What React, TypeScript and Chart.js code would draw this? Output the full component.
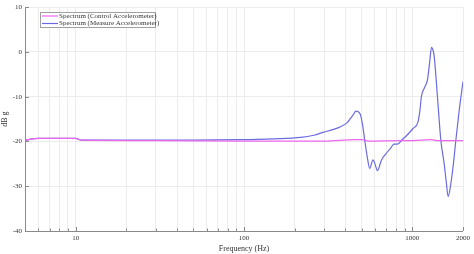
import React, { useEffect, useRef } from "react";
import { Chart, registerables } from "chart.js";
Chart.register(...registerables);

const measureFreq = [5, 5.5, 6, 8, 10, 10.8, 20, 50, 95, 150, 217, 260, 298, 340, 375, 410, 430, 450, 461, 489, 505, 521, 540, 558, 584, 600, 620, 655, 695, 740, 778, 815, 870, 935, 1010, 1081, 1110, 1132, 1180, 1230, 1270, 1300, 1325, 1349, 1410, 1476, 1545, 1590, 1633, 1700, 1760, 1815, 1900, 2000];
const measureDb = [-19.8, -19.4, -19.3, -19.3, -19.3, -19.7, -19.7, -19.7, -19.6, -19.4, -19.1, -18.6, -17.9, -17.3, -16.7, -15.8, -14.8, -13.8, -13.2, -13.8, -16, -19.6, -23.5, -26.0, -24.1, -25.0, -26.5, -24.2, -22.8, -21.6, -20.6, -20.6, -19.6, -18.5, -17.1, -15.6, -13, -10.0, -8.0, -6.25, -2, 1.05, 0.5, -1.0, -10, -19.6, -24.9, -29, -32.3, -29, -24.5, -19.6, -13, -6.6];

const controlFreq = [5, 5.5, 6, 10, 10.8, 30, 100, 300, 450, 500, 550, 800, 1000, 1300, 1400, 2000];
const controlDb = [-19.8, -19.4, -19.3, -19.3, -19.7, -19.8, -19.9, -19.9, -19.6, -19.6, -19.9, -19.8, -19.8, -19.6, -19.8, -19.8];

const xTicks = [5, 6, 7, 8, 9, 10, 20, 30, 40, 50, 60, 70, 80, 90, 100, 200, 300, 400, 500, 600, 700, 800, 900, 1000, 2000];
const xLabeled = [10, 100, 1000, 2000];
const yTicks = [-40, -30, -20, -10, 0, 10];

const seriesLabels = ["Spectrum (Control Accelerometer)", "Spectrum (Measure Accelerometer)"];
const seriesColors = ["#ee66ee", "#6b6be0"];

const FONT = "'Liberation Serif', 'DejaVu Serif', serif";

export default function App() {
  const ref = useRef<HTMLCanvasElement | null>(null);
  useEffect(() => {
    document.body.style.margin = "0";
    const canvas = ref.current!;
    const overlay = {
      id: "overlay",
      afterDraw(chart: any) {
        const ctx = chart.ctx;
        const a = chart.chartArea;
        const xs = chart.scales.x;
        const ys = chart.scales.y;
        ctx.save();
        // axis lines
        ctx.strokeStyle = "#8a8a8a";
        ctx.lineWidth = 1;
        ctx.beginPath();
        ctx.moveTo(a.left + 0.5, a.top);
        ctx.lineTo(a.left + 0.5, a.bottom + 0.5);
        ctx.lineTo(a.right, a.bottom + 0.5);
        ctx.stroke();
        // inward ticks
        ctx.strokeStyle = "#8a8a8a";
        ctx.beginPath();
        xTicks.forEach((t) => {
          const px = Math.round(xs.getPixelForValue(t)) + 0.5;
          const len = xLabeled.includes(t) ? 4 : 2.5;
          ctx.moveTo(px, a.bottom);
          ctx.lineTo(px, a.bottom - len);
        });
        yTicks.forEach((t) => {
          const py = Math.round(ys.getPixelForValue(t)) + 0.5;
          ctx.moveTo(a.left, py);
          ctx.lineTo(a.left + 4, py);
        });
        ctx.stroke();
        // legend
        const lx = 40, ly = 12, lw = 115, lh = 15;
        ctx.fillStyle = "#ffffff";
        ctx.fillRect(lx, ly, lw, lh);
        ctx.strokeStyle = "#a0a0a0";
        ctx.strokeRect(lx + 0.5, ly + 0.5, lw, lh);
        ctx.font = `7px ${FONT}`;
        ctx.textBaseline = "middle";
        seriesLabels.forEach((lab, i) => {
          const yy = ly + 4 + i * 7.5;
          ctx.strokeStyle = seriesColors[i];
          ctx.lineWidth = 1.2;
          ctx.beginPath();
          ctx.moveTo(lx + 2, yy);
          ctx.lineTo(lx + 18, yy);
          ctx.stroke();
          ctx.fillStyle = "#333333";
          ctx.fillText(lab, lx + 19, yy);
        });
        ctx.restore();
      },
    };
    const chart = new Chart(canvas, {
      type: "line",
      data: {
        datasets: [
          {
            label: seriesLabels[0],
            data: controlFreq.map((f, i) => ({ x: f, y: controlDb[i] })),
            borderColor: seriesColors[0],
            borderWidth: 1.2,
            pointRadius: 0,
            cubicInterpolationMode: "monotone",
          },
          {
            label: seriesLabels[1],
            data: measureFreq.map((f, i) => ({ x: f, y: measureDb[i] })),
            borderColor: seriesColors[1],
            borderWidth: 1.2,
            pointRadius: 0,
            cubicInterpolationMode: "monotone",
          },
        ],
      },
      options: {
        animation: false,
        responsive: false,
        maintainAspectRatio: false,
        layout: { padding: { top: 7, right: 11, left: 0, bottom: 0 } },
        plugins: { legend: { display: false }, tooltip: { enabled: false } },
        scales: {
          x: {
            type: "logarithmic",
            min: 5,
            max: 2000,
            afterBuildTicks: (s: any) => {
              s.ticks = xTicks.map((v) => ({ value: v }));
            },
            afterFit: (s: any) => {
              s.height = 23;
            },
            grid: { color: "#ececec", drawTicks: false },
            border: { display: false },
            ticks: {
              autoSkip: false,
              maxRotation: 0,
              padding: 3,
              color: "#333333",
              font: { family: FONT, size: 7 },
              callback: (v: any) => (xLabeled.includes(Number(v)) ? String(v) : ""),
            },
            title: {
              display: true,
              text: "Frequency (Hz)",
              color: "#333333",
              font: { family: FONT, size: 8 },
              padding: { top: 0, bottom: 0 },
            },
          },
          y: {
            min: -40,
            max: 10,
            afterBuildTicks: (s: any) => {
              s.ticks = yTicks.map((v) => ({ value: v }));
            },
            afterFit: (s: any) => {
              s.width = 25;
            },
            grid: { color: "#ececec", drawTicks: false },
            border: { display: false },
            ticks: {
              padding: 3,
              color: "#333333",
              font: { family: FONT, size: 7 },
            },
            title: {
              display: true,
              text: "dB g",
              color: "#333333",
              font: { family: FONT, size: 8 },
              padding: { top: 0, bottom: 0 },
            },
          },
        },
      },
      plugins: [overlay],
    } as any);
    return () => chart.destroy();
  }, []);
  return (
    <div style={{ width: 474, height: 254 }}>
      <canvas ref={ref} width={474} height={254} style={{ display: "block" }} />
    </div>
  );
}
